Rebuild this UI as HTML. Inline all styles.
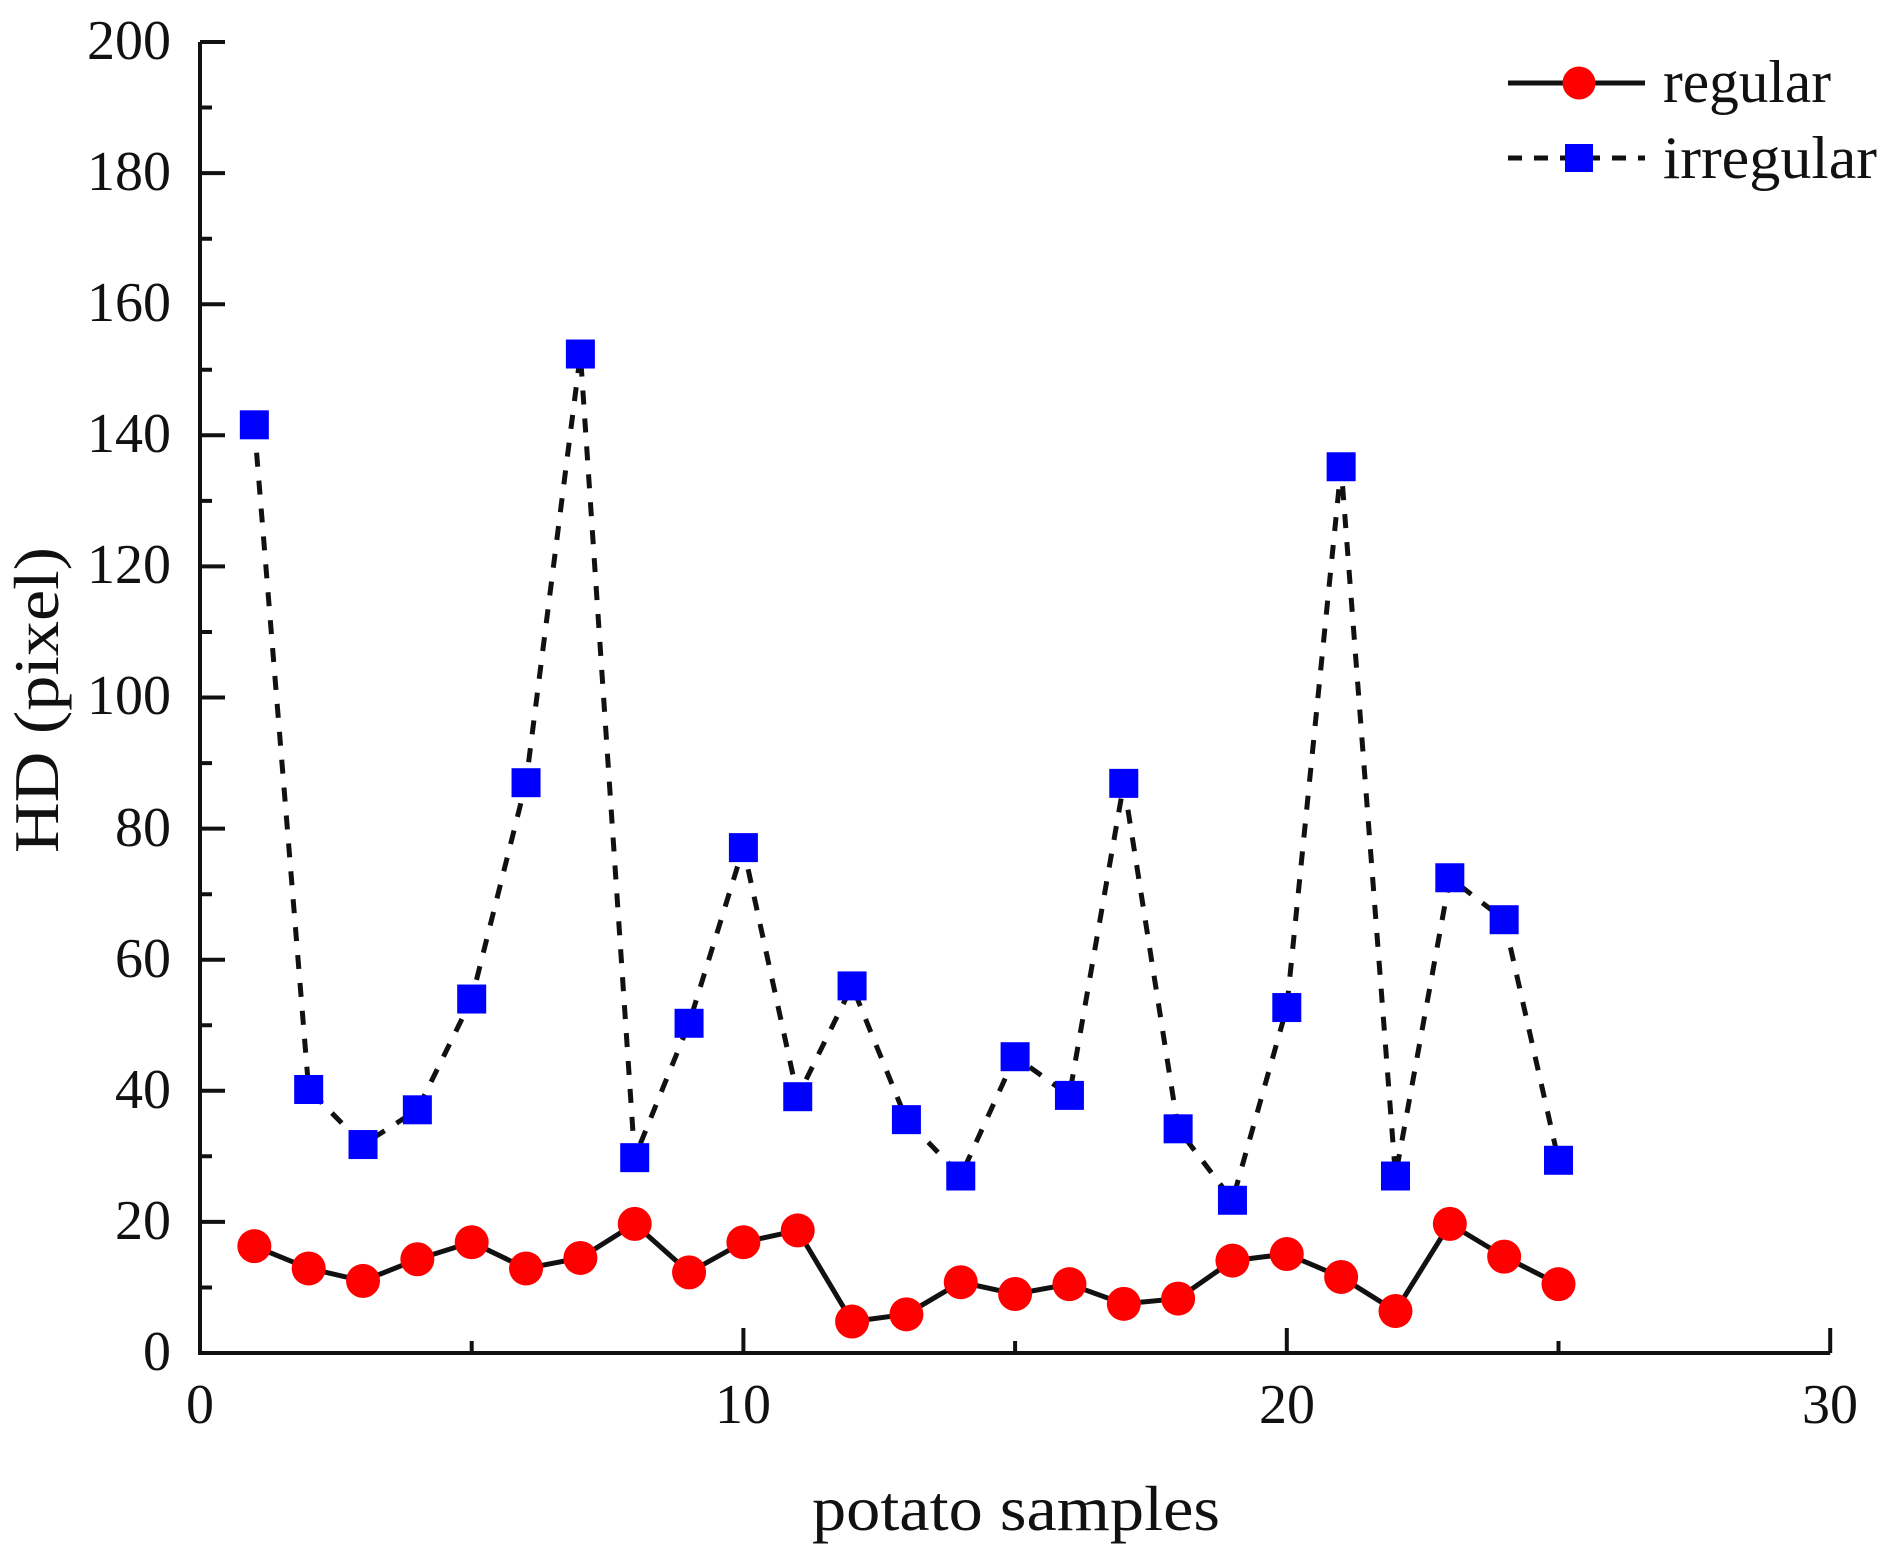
<!DOCTYPE html>
<html><head><meta charset="utf-8">
<style>
html,body{margin:0;padding:0;background:#fff;}
svg{display:block;}
text{font-family:"Liberation Serif",serif;fill:#111;}
</style></head>
<body>
<svg id="c" width="1888" height="1558" viewBox="0 0 1888 1558" xmlns="http://www.w3.org/2000/svg">
<rect width="1888" height="1558" fill="#fff"/>
<g id="axes" stroke="#111" stroke-width="4" fill="none"></g>
<g id="series"></g>
<g font-size="56" text-anchor="end">
<text x="171" y="1370">0</text>
<text x="171" y="1239">20</text>
<text x="171" y="1108">40</text>
<text x="171" y="977">60</text>
<text x="171" y="846">80</text>
<text x="171" y="714">100</text>
<text x="171" y="583">120</text>
<text x="171" y="452">140</text>
<text x="171" y="321">160</text>
<text x="171" y="190">180</text>
<text x="171" y="59">200</text>
</g>
<g font-size="56" text-anchor="middle">
<text x="200" y="1423">0</text>
<text x="743" y="1423">10</text>
<text x="1287" y="1423">20</text>
<text x="1830" y="1423">30</text>
</g>
<text x="1016" y="1530" font-size="64" text-anchor="middle" textLength="408" lengthAdjust="spacingAndGlyphs">potato samples</text>
<text transform="translate(58,700) rotate(-90)" font-size="64" text-anchor="middle" textLength="306" lengthAdjust="spacingAndGlyphs">HD (pixel)</text>
<g>
<line x1="1508" y1="83" x2="1645" y2="83" stroke="#111" stroke-width="5"/>
<circle cx="1579" cy="83" r="16.5" fill="#ff0000"/>
<line x1="1508" y1="158" x2="1645" y2="158" stroke="#111" stroke-width="5" stroke-dasharray="14,12"/>
<rect x="1565" y="144" width="28" height="28" fill="#0000ff"/>
<text x="1663" y="102" font-size="60" textLength="168" lengthAdjust="spacingAndGlyphs">regular</text>
<text x="1663" y="178" font-size="60" textLength="214" lengthAdjust="spacingAndGlyphs">irregular</text>
</g>
</svg>
<script>
(function(){
var NS="http://www.w3.org/2000/svg";
var X0=200,UX=54.34,Y0=1353,UY=6.555;
function X(i){return X0+i*UX;} function Y(v){return Y0-v*UY;}
var ax=document.getElementById('axes');
var d="M200,42 L200,1353 L"+X(30).toFixed(1)+",1353";
for(var v=0;v<=200;v+=10){var y=Y(v);var L=(v%20==0)?25:12;d+=" M200,"+y.toFixed(1)+" h"+L;}
for(var i=0;i<=30;i+=5){var x=X(i);var L=(i%10==0)?25:12;d+=" M"+x.toFixed(1)+",1353 v-"+L;}
var p=document.createElementNS(NS,'path');p.setAttribute('d',d);ax.appendChild(p);
var irr=[141.6,40.2,31.8,37.1,54,87,152.4,29.8,50.3,77.1,39.1,56,35.6,27,45.2,39.3,86.9,34.2,23.3,52.7,135.2,27,72.5,66.1,29.4];
var reg=[16.3,12.9,11,14.3,16.9,12.9,14.5,19.7,12.3,16.9,18.7,4.8,5.9,10.8,9,10.5,7.5,8.3,14.1,15.1,11.6,6.4,19.7,14.7,10.5];
var s=document.getElementById('series');
function line(arr,dash){var pts=arr.map(function(v,k){return X(k+1).toFixed(1)+","+Y(v).toFixed(1)}).join(" ");
var pl=document.createElementNS(NS,'polyline');pl.setAttribute('points',pts);pl.setAttribute('fill','none');
pl.setAttribute('stroke','#111');pl.setAttribute('stroke-width','5');if(dash)pl.setAttribute('stroke-dasharray',dash);s.appendChild(pl);}
line(irr,"14,14");line(reg,null);
irr.forEach(function(v,k){var r=document.createElementNS(NS,'rect');r.setAttribute('x',X(k+1)-14.5);r.setAttribute('y',Y(v)-14.5);r.setAttribute('width',29);r.setAttribute('height',29);r.setAttribute('fill','#0000ff');s.appendChild(r);});
reg.forEach(function(v,k){var c=document.createElementNS(NS,'circle');c.setAttribute('cx',X(k+1));c.setAttribute('cy',Y(v));c.setAttribute('r',17);c.setAttribute('fill','#ff0000');s.appendChild(c);});
})();
</script>
</body></html>
